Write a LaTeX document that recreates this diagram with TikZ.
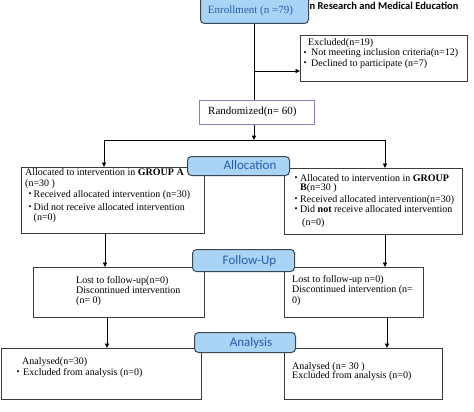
\documentclass[tikz,border=0pt]{standalone}
\usepackage{fontspec}
\setmainfont{Liberation Serif}
\newfontfamily\calib{Carlito}
\usetikzlibrary{arrows.meta}
\definecolor{tagblue}{RGB}{170,212,246}
\definecolor{tagline}{RGB}{60,70,80}
\definecolor{tagtext}{RGB}{40,90,170}
\definecolor{boxline}{RGB}{60,60,60}
\definecolor{randline}{RGB}{130,130,200}
\newcommand{\bul}{\raisebox{0.6pt}{\fontsize{8.5}{8.5}\selectfont\textbullet}}
\begin{document}
\begin{tikzpicture}[x=1pt,y=-1pt,
  box/.style={draw=boxline, line width=1pt, fill=white, inner sep=0, anchor=north west},
  tag/.style={draw=tagline, line width=1pt, fill=tagblue, rounded corners=4pt, inner sep=0, anchor=north west},
  txt/.style={anchor=base west, inner sep=0, font=\fontsize{10}{11}\selectfont},
  bigtxt/.style={anchor=base west, inner sep=0, font=\fontsize{11}{13}\selectfont},
  tagtxt/.style={anchor=base, inner sep=0, font=\calib\fontsize{13}{14}\selectfont, text=tagtext},
  conn/.style={line width=0.9pt, draw=black},
  arr/.style={conn, -{Triangle[length=4.5pt,width=4pt]}}]
\clip (0,0) rectangle (474,412);
\fill[white] (0,0) rectangle (474,412);

% watermark text
\node[anchor=base west, inner sep=0, font=\calib\bfseries\fontsize{10.5}{12}\selectfont] (rme) at (309.5,9.5) {n Research and Medical Education};

% boxes
\node[tag, minimum width=108pt, minimum height=30pt] (enr) at (200,-7) {};
\node[box, draw=randline, minimum width=115pt, minimum height=24pt] (rand) at (199,100) {};
\node[box, minimum width=167pt, minimum height=46pt] (excl) at (300,35) {};
\node[box, minimum width=183pt, minimum height=66pt] (ga) at (21,167) {};
\node[box, minimum width=178pt, minimum height=66pt] (gb) at (284,168) {};
\node[box, minimum width=171pt, minimum height=50pt] (fa) at (33,267) {};
\node[box, minimum width=139pt, minimum height=50pt] (fb) at (284,267) {};
\node[box, minimum width=200pt, minimum height=51pt] (aa) at (1,348) {};
\node[box, minimum width=158pt, minimum height=51pt] (ab) at (284,348) {};

% connectors
\coordinate (jex) at (254,71);
\coordinate (split) at (254,140);
\coordinate (sA) at (104,140);
\coordinate (sB) at (385,140);
\coordinate (xA) at (105,0);
\coordinate (xB) at (385,0);
\coordinate (yA) at (107,0);
\coordinate (yB) at (387,0);
\draw[conn] (enr.south) -- (enr.south |- rand.north);
\draw[arr] (jex) -- (jex -| excl.west);
\draw[arr] (split |- rand.south) -- (split);
\draw[conn] (sA) -- (sB);
\draw[arr] (sA) -- (sA |- ga.north);
\draw[arr] (sB) -- (sB |- gb.north);
\draw[arr] (ga.south -| xA) -- (fa.north -| xA);
\draw[arr] (gb.south -| xB) -- (fb.north -| xB);
\draw[arr] (fa.south -| yA) -- (aa.north -| yA);
\draw[arr] (fb.south -| yB) -- (ab.north -| yB);

% tags
\node[tag, minimum width=102pt, minimum height=19pt] (talloc) at (187,156) {};
\node[tag, minimum width=102pt, minimum height=22pt] (tfu) at (192,249) {};
\node[tag, minimum width=101pt, minimum height=20pt] (tan) at (194,332) {};
\node[tagtxt] (talloct) at (250,169.5) {Allocation};
\node[tagtxt] (tfut) at (249.5,264.5) {Follow-Up};
\node[tagtxt] (tant) at (251,346.5) {Analysis};

% texts
\node[bigtxt, anchor=base, text=tagtext] (enrt) at (250.5,13.5) {Enrollment (n =79)};
\node[bigtxt] (randt) at (208,114) {Randomized(n= 60)};

\node[txt] (ex1) at (308,45.5) {Excluded(n=19)};
\node[txt] (ex2) at (303.5,56) {\makebox[7.5pt][l]{\bul}Not meeting inclusion criteria(n=12)};
\node[txt] (ex3) at (303.5,66.5) {\makebox[7.5pt][l]{\bul}Declined to participate (n=7)};

\node[txt] (ga1) at (25,175) {Allocated to intervention in \textbf{GROUP A}};
\node[txt] (ga2) at (25,186) {(n=30 )};
\node[txt] (ga3) at (28.5,197.5) {\makebox[5pt][l]{\bul}Received allocated intervention (n=30)};
\node[txt] (ga4) at (28.5,210) {\makebox[5pt][l]{\bul}Did not receive allocated intervention};
\node[txt] (ga5) at (33.5,220) {(n=0)};

\node[txt] (gb1) at (294.5,181) {\makebox[5.5pt][l]{\bul}Allocated to intervention in \textbf{GROUP}};
\node[txt] (gb2) at (300,190) {\textbf{B}(n=30 )};
\node[txt] (gb3) at (294.5,202) {\makebox[5.5pt][l]{\bul}Received allocated intervention(n=30)};
\node[txt] (gb4) at (294.5,212) {\makebox[5.5pt][l]{\bul}Did \textbf{not} receive allocated intervention};
\node[txt] (gb5) at (302,225) {(n=0)};

\node[txt] (fa1) at (76,283) {Lost to follow-up(n=0)};
\node[txt] (fa2) at (76,293) {Discontinued intervention};
\node[txt] (fa3) at (76,303) {(n= 0)};

\node[txt] (fb1) at (292,282) {Lost to follow-up n=0)};
\node[txt] (fb2) at (292,292) {Discontinued intervention (n=};
\node[txt] (fb3) at (292,303) {0)};

\node[txt] (aa1) at (22,364) {Analysed(n=30)};
\node[txt] (aa2) at (16.5,375) {\makebox[6.5pt][l]{\bul}Excluded from analysis (n=0)};

\node[txt] (ab1) at (292,369) {Analysed (n= 30 )};
\node[txt] (ab2) at (292,378.5) {Excluded from analysis (n=0)};
\end{tikzpicture}
\end{document}
